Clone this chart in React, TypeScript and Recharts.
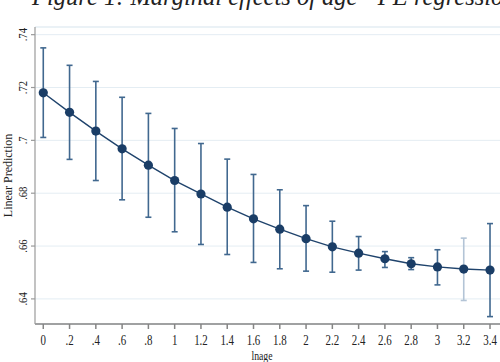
import { ComposedChart, Scatter, XAxis, YAxis, CartesianGrid, ErrorBar, ReferenceLine } from 'recharts';

// margins of lnage
const lnage = [0, 0.2, 0.4, 0.6, 0.8, 1, 1.2, 1.4, 1.6, 1.8, 2, 2.2, 2.4, 2.6, 2.8, 3, 3.2, 3.4];
const prediction = [0.718, 0.7106, 0.7035, 0.6968, 0.6906, 0.6848, 0.6797, 0.6747, 0.6703, 0.6664, 0.6628, 0.6597, 0.6573, 0.6552, 0.6533, 0.6521, 0.6513, 0.6509];
const ciLow = [0.7011, 0.6928, 0.6848, 0.6775, 0.6709, 0.6654, 0.6606, 0.6568, 0.6538, 0.6514, 0.6505, 0.6501, 0.6509, 0.6519, 0.6511, 0.6453, 0.6394, 0.6333];
const ciHigh = [0.735, 0.7284, 0.7223, 0.7163, 0.7102, 0.7045, 0.6988, 0.6929, 0.6871, 0.6813, 0.6753, 0.6694, 0.6636, 0.6579, 0.6556, 0.6586, 0.663, 0.6685];

const xTicks = [0, 0.2, 0.4, 0.6, 0.8, 1, 1.2, 1.4, 1.6, 1.8, 2, 2.2, 2.4, 2.6, 2.8, 3, 3.2, 3.4];
const xTickLabels = ['0', '.2', '.4', '.6', '.8', '1', '1.2', '1.4', '1.6', '1.8', '2', '2.2', '2.4', '2.6', '2.8', '3', '3.2', '3.4'];
const yTicks = [0.64, 0.66, 0.68, 0.7, 0.72, 0.74];
const yTickLabels = ['.64', '.66', '.68', '.7', '.72', '.74'];

const xDomain = [-0.063, 3.476];
const yDomain = [0.6305, 0.7429];

const rows = lnage.map((x, i) => ({
  x,
  y: prediction[i],
  err: [prediction[i] - ciLow[i], ciHigh[i] - prediction[i]],
}));
// the 3.2 bar is drawn faded in the original
const fadedIndex = 16;
const solidRows = rows.filter((_, i) => i !== fadedIndex);
const fadedRows = rows.filter((_, i) => i === fadedIndex);

const serif = "'Liberation Serif', 'Times New Roman', serif";

const XTick = (props: any) => {
  const { x, y, payload } = props;
  const label = xTickLabels[xTicks.indexOf(payload.value)];
  return (
    <text transform={`translate(${x},${y + 16}) scale(0.78,1)`} textAnchor="middle" fontSize={14} fontFamily={serif} fill="#222">
      {label}
    </text>
  );
};

const YTick = (props: any) => {
  const { x, y, payload } = props;
  const label = yTickLabels[yTicks.indexOf(payload.value)];
  return (
    <text transform={`translate(${x - 4},${y}) rotate(-90) scale(0.85,1)`} textAnchor="middle" fontSize={12.5} fontFamily={serif} fill="#222">
      {label}
    </text>
  );
};

export default function App() {
  return (
    <div style={{ position: 'absolute', left: 0, top: 0, width: 500, height: 362, overflow: 'hidden', background: '#fff' }}>
      <svg width={500} height={30} style={{ position: 'absolute', left: 0, top: 0 }}>
        <text x={32} y={5} fontSize={24.5} fontStyle="italic" fontFamily={serif} fill="#222">
          Figure 1: Marginal effects of age - FE regression
        </text>
      </svg>
      <ComposedChart width={500} height={362} margin={{ top: 27, right: 0, bottom: 0, left: 0 }}>
        <CartesianGrid vertical={false} stroke="#e4edf3" strokeWidth={1} />
        <ReferenceLine y={yDomain[1]} stroke="#e4edf3" strokeWidth={1} />
        <XAxis
          type="number"
          dataKey="x"
          domain={xDomain}
          ticks={xTicks}
          allowDataOverflow
          height={38}
          tickSize={5}
          tickMargin={0}
          stroke="#858585"
          strokeWidth={1.5}
          tick={<XTick />}
          interval={0}
          label={{
            content: () => (
              <text transform={`translate(262,360) scale(0.75,1)`} textAnchor="middle" fontSize={13} fontFamily={serif} fill="#222">
                lnage
              </text>
            ),
          }}
        />
        <YAxis
          type="number"
          dataKey="y"
          domain={yDomain}
          ticks={yTicks}
          allowDataOverflow
          width={35}
          tickSize={4}
          tickMargin={0}
          stroke="#9a9a9a"
          strokeWidth={1.2}
          tick={<YTick />}
          interval={0}
          label={{
            content: () => (
              <text transform={`translate(11.5,175.5) rotate(-90) scale(0.92,1)`} textAnchor="middle" fontSize={13} fontFamily={serif} fill="#222">
                Linear Prediction
              </text>
            ),
          }}
        />
        <Scatter data={solidRows} shape={() => <g />} isAnimationActive={false}>
          <ErrorBar dataKey="err" direction="y" width={3} stroke="#41688f" strokeWidth={1.6} isAnimationActive={false} />
        </Scatter>
        <Scatter data={fadedRows} shape={() => <g />} isAnimationActive={false}>
          <ErrorBar dataKey="err" direction="y" width={3} stroke="#b3c4d6" strokeWidth={1.6} isAnimationActive={false} />
        </Scatter>
        <Scatter
          data={rows}
          line={{ stroke: '#1f436c', strokeWidth: 1.4 }}
          lineType="joint"
          shape={(p: any) => <circle cx={p.cx} cy={p.cy} r={4.6} fill="#1a3d66" />}
          isAnimationActive={false}
        />
      </ComposedChart>
    </div>
  );
}
